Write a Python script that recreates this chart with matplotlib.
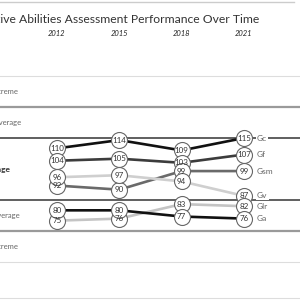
import matplotlib
matplotlib.use('Agg')
import matplotlib.pyplot as plt

plt.rcParams['font.family'] = ['Lato', 'DejaVu Sans']

years = ['2012', '2015', '2018', '2021']
abilities = ['Gc', 'Gf', 'Gsm', 'Gv', 'Glr', 'Ga']
scores = {
    'Gc':  [110, 114, 109, 115],
    'Gf':  [104, 105, 103, 107],
    'Gsm': [92, 90, 99, 99],
    'Gv':  [96, 97, 94, 87],
    'Glr': [75, 76, 83, 82],
    'Ga':  [80, 80, 77, 76],
}
line_colors = {'Gc': '#111111', 'Gf': '#3c3c3c', 'Gsm': '#6a6a6a',
               'Gv': '#cfcfcf', 'Glr': '#c4c4c4', 'Ga': '#111111'}

band_names = ['Extreme', 'Above Average', 'Average', 'Below Average', 'Extreme']
band_centers = [137.5, 122.5, 100, 77.5, 62.5]
band_edges = [145, 130, 115, 85, 70, 55]

fig = plt.figure(figsize=(3, 3), dpi=100)
ax = fig.add_axes([0, 0, 1, 1])
ax.set_xlim(-0.915, 3.9)
ax.set_ylim(36.6, 181.8)
ax.axis('off')

# band boundaries
edge_style = {145: ('#dddddd', 0.8), 130: ('#9a9a9a', 1.6), 115: ('#444444', 1.2),
              85: ('#444444', 1.2), 70: ('#9a9a9a', 1.6), 55: ('#dddddd', 0.8)}
for e in band_edges:
    c, lw = edge_style[e]
    ax.axhline(e, color=c, lw=lw, zorder=1)

# frame lines of the screenshot
fig.add_artist(plt.Line2D([0, 0.98], [0.993, 0.993], color='#cccccc', lw=1.0))
fig.add_artist(plt.Line2D([0, 1], [0.007, 0.007], color='#dddddd', lw=0.8))

x = list(range(len(years)))
for name in abilities:
    ax.plot(x, scores[name], color=line_colors[name], lw=1.9, zorder=2)
for name in abilities:
    for xi, v in zip(x, scores[name]):
        ax.plot(xi, v, 'o', ms=11.5, mfc='white', mec='#666666', mew=0.8, zorder=3)
        ax.text(xi, v, str(v), ha='center', va='center', fontsize=5.8,
                color='#333333', zorder=4)
    ax.text(3.21, scores[name][-1], name, ha='left', va='center', fontsize=6,
            color='#666666', zorder=4,
            bbox=dict(facecolor='white', edgecolor='none', pad=0.8))

label_right = [-0.62, -0.58, -0.75, -0.6, -0.62]
for name, yc, xr in zip(band_names, band_centers, label_right):
    bold = name == 'Average'
    ax.text(xr, yc, name, ha='right', va='center', fontsize=6 if bold else 5.5,
            color='#333333' if bold else '#666666',
            fontweight='bold' if bold else 'normal')

for xi, yr in zip(x, years):
    ax.text(xi, 165.5, yr, ha='center', va='center', fontsize=5.5,
            style='italic', color='#222222')

ax.text(3.24, 172.3, 'Cognitive Abilities Assessment Performance Over Time',
        ha='right', va='center', fontsize=8.75, color='#333333')

fig.savefig('out.png', dpi=100)
